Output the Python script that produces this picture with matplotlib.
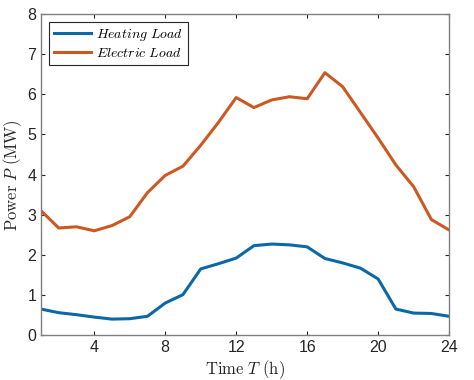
import matplotlib
matplotlib.use("Agg")
import matplotlib.pyplot as plt

hours = list(range(1, 25))
heating = [0.65, 0.56, 0.51, 0.45, 0.40, 0.41, 0.47, 0.80, 1.01, 1.65, 1.78, 1.92,
           2.23, 2.27, 2.25, 2.20, 1.91, 1.80, 1.67, 1.40, 0.65, 0.55, 0.54, 0.47]
electric = [3.10, 2.67, 2.70, 2.60, 2.73, 2.95, 3.55, 3.98, 4.21, 4.73, 5.30, 5.92,
            5.67, 5.86, 5.94, 5.89, 6.54, 6.19, 5.55, 4.91, 4.24, 3.70, 2.88, 2.62]
xticks = [4, 8, 12, 16, 20, 24]
yticks = [0, 1, 2, 3, 4, 5, 6, 7, 8]

plt.rcParams['mathtext.fontset'] = 'cm'
plt.rcParams['font.family'] = ['Liberation Sans', 'DejaVu Sans']

fig = plt.figure(figsize=(4.74, 3.8), dpi=100)
ax = fig.add_axes([0.0865, 0.118, 0.861, 0.845])
ax.plot(hours, heating, color='#0B68A6', lw=2.2, label=r'$Heating\ Load$')
ax.plot(hours, electric, color='#CC5822', lw=2.2, label=r'$Electric\ Load$')
ax.set_xlim(1, 24)
ax.set_ylim(0, 8)
ax.set_xticks(xticks)
ax.set_yticks(yticks)
ax.tick_params(direction='in', top=True, right=True, labelsize=11.5, colors='#262626',
               length=3, width=0.8)
for s in ax.spines.values():
    s.set_color('#808080')
    s.set_linewidth(1)
ax.set_xlabel(r'$\mathrm{Time}\ T\ \mathrm{(h)}$', fontsize=12, color='#262626', labelpad=2)
ax.set_ylabel(r'$\mathrm{Power}\ P\ \mathrm{(MW)}$', fontsize=12, color='#262626', labelpad=2)
leg = ax.legend(loc='upper left', fontsize=10, fancybox=False, framealpha=1,
                edgecolor='#262626', borderpad=0.35, handlelength=2.7, handletextpad=0.35,
                labelspacing=0.25, borderaxespad=0.55)
leg.get_frame().set_linewidth(0.8)
fig.savefig('out.png', dpi=100)
